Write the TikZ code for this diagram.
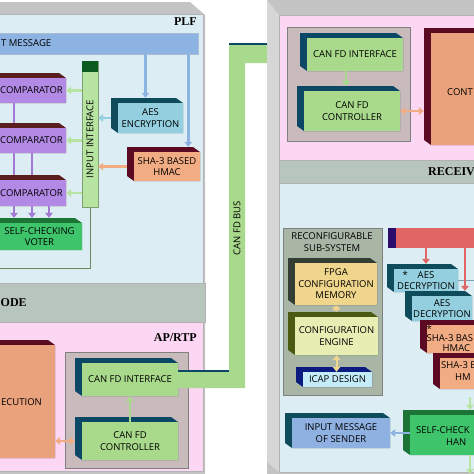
\documentclass[tikz,border=0pt]{standalone}
\usepackage{fontspec}
\setsansfont{Open Sans}
\newfontfamily\tagfont{Liberation Serif}
\usetikzlibrary{arrows.meta,calc}

\definecolor{plfblue}{HTML}{DCEDF3}
\definecolor{appink}{HTML}{FCD7F3}
\definecolor{framegray}{HTML}{C4C4C4}
\definecolor{framelight}{HTML}{D6D6D6}
\definecolor{bandgray}{HTML}{B8C5BC}
\definecolor{msgblue}{HTML}{8DB3E2}
\definecolor{cmplight}{HTML}{B28AE6}
\definecolor{cmpdark}{HTML}{5A1E1E}
\definecolor{ifgreen}{HTML}{B8E4A2}
\definecolor{ifdark}{HTML}{0B5A1F}
\definecolor{votelight}{HTML}{3EC46A}
\definecolor{votedark}{HTML}{1C7436}
\definecolor{aeslight}{HTML}{93CFDE}
\definecolor{aesdark}{HTML}{0E4B5B}
\definecolor{shalight}{HTML}{F2AC84}
\definecolor{shadark}{HTML}{5C0A24}
\definecolor{execlight}{HTML}{E9A27C}
\definecolor{canlight}{HTML}{A9DA8C}
\definecolor{candark}{HTML}{0C4866}
\definecolor{cangray}{HTML}{C9BBBB}
\definecolor{busgreen}{HTML}{A9D98C}
\definecolor{rcfgray}{HTML}{A9B6A6}
\definecolor{memlight}{HTML}{F0D68C}
\definecolor{memdark}{HTML}{333D33}
\definecolor{englight}{HTML}{E8EDB4}
\definecolor{engdark}{HTML}{4B5A12}
\definecolor{icaplight}{HTML}{C4ECF8}
\definecolor{icapdark}{HTML}{0B1B80}
\definecolor{sendlight}{HTML}{8FB1E1}
\definecolor{redfill}{HTML}{E06666}
\definecolor{redcap}{HTML}{2B0C6A}
\definecolor{cmpline}{HTML}{A27AD6}

\def\slabdx{7}
\def\slabdy{5}
% name, x1, y1, x2, y2, dark, light, text
\newcommand{\slab}[8]{%
  \fill[#6] (#2,#3) -- ({#4-\slabdx},#3) -- (#4,{#3+\slabdy}) -- (#4,#5)
    -- ({#2+\slabdx},#5) -- (#2,{#5-\slabdy}) -- cycle;
  \node[face, fill=#7, minimum width={(#4-#2-\slabdx)*1pt},
    minimum height={(#5-#3-\slabdy)*1pt}] (#1)
    at ({(#2+#4+\slabdx)/2},{(#3+#5+\slabdy)/2}) {#8};
}

\tikzset{
  lbl/.style={font=\sffamily\fontsize{9.5}{11.5}\selectfont, align=center},
  face/.style={lbl, inner sep=0pt},
  tag/.style={font=\tagfont\bfseries\fontsize{12}{14}\selectfont, inner sep=0pt},
  fat/.style={line width=2.6pt, -{Triangle[length=5pt,width=7.5pt]}},
  fatboth/.style={line width=2.6pt, {Triangle[length=5pt,width=7.5pt]}-{Triangle[length=5pt,width=7.5pt]}},
}

\begin{document}
\begin{tikzpicture}[x=1pt,y=-1pt]
    \useasboundingbox (0,0) rectangle (474,474);
    \clip (0,0) rectangle (474,474);
    % sender node
    \fill[framegray] (-5,2) -- (190,2) -- (205,15) -- (205,480) -- (-5,480) -- cycle;
    \fill[plfblue, draw=gray!60] (-5,14) rectangle (203,283);
    \fill[bandgray, draw=gray!60] (-5,283) rectangle (205,322);
    \fill[appink, draw=gray!60] (-5,322) rectangle (203,471);
    \node[tag, anchor=east] (plf) at (197,22) {PLF};
    \node[tag, anchor=west] (ode) at (0.5,303) {ODE};
    \node[tag, anchor=east] (aprtp) at (197,338) {AP/RTP};

    \node[fill=msgblue, draw=msgblue!80!black!60, minimum width=203pt, minimum height=21pt, inner sep=0pt] (msgbar) at (96.5,43.5) {};
    \node[lbl, anchor=west, inner sep=0pt] (msgtext) at (1,43.5) {T MESSAGE};

    \node[fill=ifgreen, draw=ifgreen!70!black, minimum width=16pt, minimum height=146pt, inner sep=0pt] (inif) at (90,134) {};
    \fill[ifdark] (82,61) rectangle (98,72);
    \node[lbl, rotate=90] (iftext) at (90,139) {INPUT INTERFACE};
    \coordinate (voterloop) at (-5,268);
    \draw[ifgreen!60!black, thick] (inif.south) |- (voterloop);

    \slab{cmp1}{-10}{73}{66}{103}{cmpdark}{cmplight}{COMPARATOR}
    \slab{cmp2}{-10}{123}{66}{153}{cmpdark}{cmplight}{COMPARATOR}
    \slab{cmp3}{-10}{175}{66}{206}{cmpdark}{cmplight}{COMPARATOR}
    \slab{voter}{-10}{218}{82}{250}{votedark}{votelight}{SELF-CHECKING\\VOTER}
    \slab{aesenc}{111}{98}{183}{133}{aesdark}{aeslight}{AES\\ENCRYPTION}
    \slab{shahmac}{127}{147}{200}{181}{shadark}{shalight}{SHA-3 BASED\\HMAC}

    \draw[cmpline, line width=2.6pt] ([xshift=-17.5pt]cmp1.south) -- ([xshift=-17.5pt,yshift=5pt]cmp2.north);
    \draw[cmpline, line width=2.6pt] ([xshift=-17.5pt]cmp2.south) -- ([xshift=-17.5pt,yshift=5pt]cmp3.north);
    \draw[cmpline, line width=2.6pt] ([xshift=0.5pt]cmp2.south) -- ([xshift=0.5pt,yshift=5pt]cmp3.north);
    \draw[fat, cmpline] ([xshift=-17.5pt]cmp3.south) -- ([xshift=-25.5pt,yshift=5pt]voter.north);
    \draw[fat, cmpline] ([xshift=0.5pt]cmp3.south) -- ([xshift=-7.5pt,yshift=5pt]voter.north);
    \draw[fat, cmpline] ([xshift=17.5pt]cmp3.south) -- ([xshift=9.5pt,yshift=5pt]voter.north);

    \draw[fat, ifgreen] (inif.west |- cmp1) -- (cmp1.east);
    \draw[fat, ifgreen] (inif.west |- cmp2) -- (cmp2.east);
    \draw[fat, ifgreen] (inif.west |- cmp3) -- (cmp3.east);
    \draw[fat, aeslight] ([xshift=-7pt]aesenc.west) -- (inif.east |- aesenc.west);
    \draw[fat, shalight] ([xshift=-7pt]shahmac.west) -- (inif.east |- shahmac.west);
    \draw[fat, msgblue] ([xshift=-5pt]aesenc.north |- msgbar.south) -- ([xshift=-5pt,yshift=5pt]aesenc.north);
    \draw[fat, msgblue] ([xshift=-12pt]shahmac.north east |- msgbar.south) -- ([xshift=-12pt,yshift=5pt]shahmac.north east);

    \slab{exec}{-10}{340}{55}{458}{shadark}{execlight}{}
    \node[lbl, anchor=west, inner sep=0pt] (exectext) at (1,402) {ECUTION};
    \fill[cangray, draw=gray] (65,352) rectangle (188,468);
    \slab{canifl}{75}{358}{178}{396}{candark}{canlight}{CAN FD INTERFACE}
    \slab{canctl}{75}{417}{178}{460}{candark}{canlight}{CAN FD\\CONTROLLER}
    \draw[fat, canlight] (canctl.north) -- (canifl.south);
    \draw[fatboth, shalight] (exec.east |- canctl.west) -- ([xshift=-7pt]canctl.west);

    % bus
    \fill[busgreen] (178,372) -- (229,372) -- (229,45) -- (300,45) -- (300,63)
      -- (245,63) -- (245,388) -- (178,388) -- cycle;
    \draw[candark, line width=1.5pt] (178,371) -- (229,371);
    \draw[candark, line width=1.5pt] (229,44) -- (300,44);
    \node[lbl, rotate=90] (bustext) at (237,228) {CAN FD BUS};

    % receiver node
    \fill[framegray] (267,0) rectangle (480,480);
    \fill[framelight] (267,0) -- (279,15) -- (279,472) -- (267,462) -- cycle;
    \fill[appink, draw=gray!60] (279,15) rectangle (480,160);
    \fill[bandgray, draw=gray!60] (279,160) rectangle (480,183);
    \fill[plfblue, draw=gray!60] (279,183) rectangle (480,472);
    \node[tag, anchor=west] (receiv) at (428,172) {RECEIV};

    \fill[cangray, draw=gray] (287,27) rectangle (410,141);
    \slab{canifr}{300}{33}{403}{71}{candark}{canlight}{CAN FD INTERFACE}
    \slab{canctr}{297}{86}{400}{131}{candark}{canlight}{CAN FD\\CONTROLLER}
    \slab{cont}{424}{28}{490}{145}{shadark}{execlight}{}
    \node[lbl, anchor=west, inner sep=0pt] (conttext) at (447,92) {CONT};
    \draw[fat, canlight] ([xshift=-9pt]canifr.south) -- ([xshift=-6pt,yshift=5pt]canctr.north);
    \draw[fatboth, shalight] (canctr.east) -- ($(cont.west |- canctr.east)+(-7,0)$);

    \fill[rcfgray, draw=gray] (283,228) rectangle (382,395);
    \node[lbl] (rcftext) at (332,242) {RECONFIGURABLE\\SUB-SYSTEM};
    \slab{fpgamem}{288}{258}{377}{305}{memdark}{memlight}{FPGA\\CONFIGURATION\\MEMORY}
    \slab{cfgeng}{288}{312}{378}{355}{engdark}{englight}{CONFIGURATION\\ENGINE}
    \slab{icap}{296}{367}{372}{387}{icapdark}{icaplight}{ICAP DESIGN}
    \draw[fatboth, memlight, line width=2pt] (fpgamem.south) -- ([yshift=5pt]cfgeng.north);
    \draw[fatboth, memlight, line width=2pt] (cfgeng.south) -- (cfgeng.south |- icap.north);

    \node[fill=redfill, minimum width=92pt, minimum height=20pt, inner sep=0pt] (redbar) at (434,238) {};
    \fill[redcap] (388,228) rectangle (396,248);
    \slab{aesdec1}{387}{264}{458}{292}{aesdark}{aeslight}{\llap{*\hspace{10pt}}AES\\DECRYPTION}
    \draw[gray!70!cyan, thick] (aesdec1.east) -- (aesdec1.east -| redbar.east);
    \slab{aesdec2}{405}{291}{472}{321}{aesdark}{aeslight}{AES\\DECRYPTION}
    \slab{sha1}{420}{320}{490}{353}{shadark}{shalight}{}
    \node[lbl, anchor=north west, inner sep=0pt, align=left, font=\sffamily\fontsize{9.5}{9.5}\selectfont] (sha1text) at (426.5,325) {*\\SHA-3 BAS\\\hspace*{16pt}HMAC};
    \slab{sha2}{433}{353}{490}{389}{shadark}{shalight}{}
    \node[lbl, anchor=west, inner sep=0pt, align=left] (sha2text) at (441,371) {SHA-3 B\\\hspace*{14pt}HM};
    \draw[fat, redfill] (aesdec1.north |- redbar.south) -- ([yshift=5pt]aesdec1.north);
    \draw[fat, redfill] ([xshift=23pt]aesdec2.north |- redbar.south) -- ([xshift=23pt,yshift=5pt]aesdec2.north);

    \slab{sender}{285}{413}{390}{448}{aesdark}{sendlight}{INPUT MESSAGE\\OF SENDER}
    \slab{handler}{403}{410}{490}{455}{votedark}{votelight}{}
    \node[lbl, anchor=west, inner sep=0pt, align=left] (handtext) at (416,436) {SELF-CHECK\\\hspace*{30pt}HAN};
    \draw[fat, msgblue] (handler.west |- sender.east) -- (sender.east);
    \coordinate (handin) at (470,397);
    \coordinate (handout) at (470,474);
    \draw[fat, ifgreen] (handin) -- ([yshift=5pt]handin |- handler.north);
    \draw[fat, ifgreen] (handout |- handler.south) -- (handout);
\end{tikzpicture}
\end{document}
